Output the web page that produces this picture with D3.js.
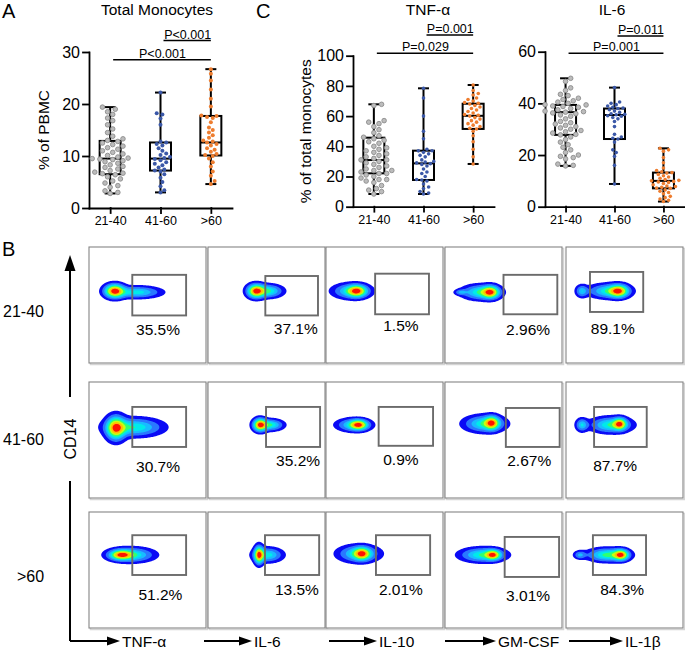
<!DOCTYPE html>
<html>
<head>
<meta charset="utf-8">
<script src="https://cdn.jsdelivr.net/npm/d3@7"></script>
<style>
  body { margin: 0; background: #fff; }
</style>
</head>
<body>
<svg id="fig" width="685" height="652"></svg>
<script>
var FONT = '"Liberation Sans", Arial, Helvetica, sans-serif';

var groups = ["21-40", "41-60", ">60"];

// panel A: total monocytes, % of PBMC
var mono2140 = [2.8, 3.0, 3.3, 4.0, 4.3, 4.8, 5.2, 5.6, 6.0, 6.4, 6.6, 6.7, 6.9, 7.2, 7.5, 7.8, 8.0, 8.3, 8.6, 8.9,
  9.1, 9.3, 9.4, 9.5, 9.6, 9.8, 10.1, 10.4, 10.7, 11.0, 11.3, 11.6, 11.9, 12.2, 12.5, 12.8, 13.0, 13.3, 13.8, 14.5,
  15.2, 16.0, 16.8, 17.3, 18.0, 18.5, 19.0, 19.4];
var mono4160 = [22.2, 18.2, 18.0, 17.2, 16.0, 12.8, 12.6, 12.3, 12.0, 11.5, 11.0, 10.5, 10.2, 9.8, 9.6, 9.4, 9.2, 8.8,
  8.5, 8.2, 7.8, 7.4, 7.2, 7.0, 6.5, 5.8, 5.0, 4.2, 3.4, 3.0];
var mono60 = [26.7, 25.8, 24.5, 22.8, 21.0, 19.5, 17.8, 17.7, 17.5, 17.3, 16.5, 15.5, 15.0, 14.5, 14.0, 13.5, 13.0,
  12.8, 12.6, 12.3, 12.0, 11.5, 11.2, 10.8, 10.4, 10.2, 10.0, 9.5, 8.8, 8.0, 7.0, 6.2, 5.2, 4.6];
var monoBox = [[2.8, 6.5, 9.5, 12.9, 19.4], [3.0, 7.2, 9.5, 12.6, 22.2], [4.6, 10.1, 12.6, 17.7, 26.7]];
var monoSig = [[0, 2, "P<0.001"], [1, 2, "P<0.001"]];

// panel C: TNF-alpha, % of total monocytes
var tnf2140 = [67.8, 67, 57, 56, 55, 53, 51, 49, 47, 46, 45, 44, 43, 42, 40, 39, 38, 37, 36, 35, 34, 33, 32, 31, 31,
  30, 29, 28, 27, 26, 25, 24, 24, 23, 22, 22, 21, 20, 19, 18, 18, 17, 16, 14, 12, 11, 10, 8.4];
var tnf4160 = [78.4, 72, 60, 50, 45, 38, 37.1, 37, 36, 35, 34, 33, 31, 30, 29.5, 29, 28.5, 28, 27, 25, 23, 22, 20,
  18, 17.7, 17, 15, 13, 12, 10, 9, 8.4];
var tnf60 = [80.6, 77, 75, 74, 72, 71, 70, 69, 68.5, 68, 67, 66, 65, 64, 63, 62, 61, 60.5, 60, 59, 58, 57, 56, 55, 54,
  53, 52, 51.5, 50, 47, 43, 38, 33, 28.3];
var tnfBox = [[8.4, 22.1, 30.9, 45.7, 67.8], [8.4, 17.7, 28.7, 37.1, 78.4], [28.3, 51.5, 60.2, 68.2, 80.6]];
var tnfSig = [[0, 2, "P=0.029"], [1, 2, "P=0.001"]];

// panel C: IL-6
var il62140 = [49.7, 48.5, 46, 45, 43.5, 43, 42, 41.5, 41, 40.5, 40, 39.5, 39.4, 39, 38.8, 38.5, 38, 37.5, 37, 36.8,
  36.6, 36.3, 36, 35.5, 35, 34, 33, 32.5, 32, 31.5, 31, 30.5, 30, 29.5, 29, 28.5, 28, 27.8, 27, 26, 25, 24, 23, 22,
  21, 20, 19.5, 19, 18.5, 16.5, 16, 15.8];
var il64160 = [46.1, 40.5, 40, 39.5, 39, 38.5, 38.2, 38, 37.5, 37, 36.5, 36, 35.8, 35.6, 35.2, 35, 34.5, 34, 33, 31,
  28, 27, 26.5, 26.2, 25, 22, 21, 19.5, 16, 8.8];
var il660 = [22.6, 22, 21.5, 19, 17, 15, 14, 13.5, 13.2, 13, 12.5, 12, 11.5, 11, 10.5, 10.2, 10, 9.8, 9.6, 9.4, 9,
  8.5, 8, 7.8, 7.5, 7.2, 7.1, 6.5, 6, 5.5, 5, 4, 3.5, 3, 2.5, 2.0];
var il6Box = [[15.8, 27.8, 36.6, 39.4, 49.7], [8.8, 26.2, 35.5, 38.0, 46.1], [2.0, 7.1, 10.0, 13.2, 22.6]];
var il6Sig = [[0, 2, "P=0.001"], [1, 2, "P=0.011"]];

// panel B: flow plots
var ageRows = ["21-40", "41-60", ">60"];
var cytokines = ["TNF-α", "IL-6", "IL-10", "GM-CSF", "IL-1β"];
var gatePct = [
  ["35.5%", "37.1%", "1.5%", "2.96%", "89.1%"],
  ["30.7%", "35.2%", "0.9%", "2.67%", "87.7%"],
  ["51.2%", "13.5%", "2.01%", "3.01%", "84.3%"]
];
// gate [x0, x1, y0, y1] on a 0-100 scale
var gates = [
  [[37, 83, 41, 76], [49, 94, 41, 75], [42, 88, 42, 77], [50, 96, 42, 76], [20.5, 66, 44, 78.5]],
  [[37, 83, 44, 78.5], [49.6, 95.8, 44, 78.5], [45, 91.5, 45, 78.5], [52, 98, 44, 77.6], [24, 69, 44, 78.5]],
  [[37, 83, 45.7, 80], [48.7, 95, 45.7, 80], [42.7, 89, 45.7, 80], [51, 97.5, 44, 78.5], [23, 68.4, 45.7, 80]]
];
var pctAt = [
  [[59, 29], [75, 30], [64, 32], [71, 29], [40, 30]],
  [[59, 27], [77, 32], [64, 33.6], [72, 32], [42, 28.5]],
  [[61, 29], [76, 33.6], [64, 33.6], [71, 28.5], [48, 33.6]]
];
// populations: [meanX, meanY, sdX, sdY, weight]
var pops = [
  [
    [[22, 62, 5.0, 3.4, 1], [41, 61, 11, 2.8, 0.38]],
    [[41, 62, 4.3, 3.4, 1], [51, 62, 7.0, 3.1, 0.5]],
    [[26.5, 62, 4.8, 3.0, 1], [22, 62, 8.8, 3.6, 0.55]],
    [[39, 61, 4.3, 3.2, 1], [31, 61, 8.8, 3.5, 0.6], [13.7, 61, 3.0, 1.4, 0.3]],
    [[45, 62, 4.8, 3.2, 1], [37, 62, 9.6, 3.4, 0.55], [13.7, 62, 3.0, 2.9, 0.4]]
  ],
  [
    [[23, 60.3, 4.8, 5.8, 1], [38.5, 61, 13, 4.3, 0.5]],
    [[44.5, 63, 3.4, 3.2, 1], [53, 63, 6.2, 2.7, 0.5]],
    [[28, 63, 4.3, 2.5, 1], [24, 63, 8.0, 3.1, 0.55]],
    [[40, 64.7, 3.8, 3.4, 1], [34, 64, 9.6, 4.0, 0.6]],
    [[46, 63.8, 3.4, 3.0, 1], [38.5, 63, 9.6, 3.7, 0.6], [13.7, 63, 3.0, 3.1, 0.45]]
  ],
  [
    [[27.4, 63, 5.7, 2.5, 1], [36, 63, 10.5, 3.4, 0.6]],
    [[43.6, 63, 2.4, 4.4, 1], [51, 63, 7.0, 3.4, 0.45]],
    [[30.8, 64, 4.3, 3.2, 1], [28, 64, 9.6, 4.0, 0.6]],
    [[41, 63, 3.8, 2.5, 1], [32.5, 63, 10.5, 3.4, 0.6]],
    [[47, 63, 3.8, 2.7, 1], [36, 63, 9.6, 3.2, 0.6], [12, 63, 3.0, 2.0, 0.3]]
  ]
];

var svg = d3.select("#fig");
var groupFill = ["#bcbcbc", "#3b58a8", "#ee7d2f"];
var groupStroke = ["#8c8c8c", "#3b58a8", "#ee7d2f"];

function swarm(vals, y, cx, r) {
  var placed = [];
  var sorted = vals.slice().sort(d3.ascending);
  var step = r * 0.95;
  return sorted.map(function(v) {
    var py = y(v);
    for (var k = 0; k < 60; k++) {
      var off = k === 0 ? 0 : (k % 2 ? 1 : -1) * Math.ceil(k / 2) * step;
      var ok = placed.every(function(p) {
        var dx = p.x - (cx + off), dy = p.y - py;
        return dx * dx + dy * dy >= (2 * r + 0.3) * (2 * r + 0.3);
      });
      if (ok) { var pt = {x: cx + off, y: py}; placed.push(pt); return pt; }
    }
    return {x: cx, y: py};
  });
}

function stripChart(c) {
  var g = svg.append("g");
  var y = d3.scaleLinear().domain([0, c.max]).range([c.yBot, c.yTop]);
  var x = d3.scalePoint().domain(groups).range([c.x0, c.x1]).padding(0.42);

  var ya = g.append("g").attr("transform", "translate(" + c.x0 + ",0)")
    .call(d3.axisLeft(y).tickValues(c.ticks).tickSize(6).tickSizeOuter(0));
  var xa = g.append("g").attr("transform", "translate(0," + c.yBot + ")")
    .call(d3.axisBottom(x).tickSize(5).tickSizeOuter(0));
  [ya, xa].forEach(function(a) {
    a.attr("font-family", FONT);
    a.selectAll("path, line").attr("stroke", "#000").attr("stroke-width", 1.8).attr("stroke-linecap", "square");
    a.selectAll("text").attr("fill", "#000");
  });
  ya.attr("font-size", 16);
  xa.attr("font-size", 12.5);

  c.box.forEach(function(s, i) {
    var cx = x(groups[i]), bw = 21, cap = 11;
    var b = g.append("g").attr("stroke", "#000").attr("stroke-width", 2).attr("fill", "none");
    b.append("line").attr("x1", cx).attr("x2", cx).attr("y1", y(s[0])).attr("y2", y(s[1]));
    b.append("line").attr("x1", cx).attr("x2", cx).attr("y1", y(s[3])).attr("y2", y(s[4]));
    b.append("line").attr("x1", cx - cap / 2).attr("x2", cx + cap / 2).attr("y1", y(s[0])).attr("y2", y(s[0]));
    b.append("line").attr("x1", cx - cap / 2).attr("x2", cx + cap / 2).attr("y1", y(s[4])).attr("y2", y(s[4]));
    b.append("rect").attr("x", cx - bw / 2).attr("width", bw)
      .attr("y", y(s[3])).attr("height", y(s[1]) - y(s[3]));
    b.append("line").attr("x1", cx - bw / 2).attr("x2", cx + bw / 2).attr("y1", y(s[2])).attr("y2", y(s[2]));
  });

  c.series.forEach(function(vals, i) {
    var r = c.radii[i];
    g.append("g").selectAll("circle")
      .data(swarm(vals, y, x(groups[i]), r))
      .enter().append("circle")
      .attr("cx", function(d) { return d.x; })
      .attr("cy", function(d) { return d.y; })
      .attr("r", i === 0 ? r - 0.4 : r)
      .attr("fill", groupFill[i])
      .attr("stroke", groupStroke[i])
      .attr("stroke-width", i === 0 ? 0.9 : 0);
  });

  c.sig.forEach(function(s, k) {
    var ly = y(c.sigAt[k]);
    g.append("line").attr("x1", x(groups[s[0]]) + 3).attr("x2", x(groups[s[1]]))
      .attr("y1", ly).attr("y2", ly).attr("stroke", "#000").attr("stroke-width", 1.5);
    g.append("text").attr("x", (x(groups[s[0]]) + x(groups[s[1]])) / 2 + 2).attr("y", ly - 2)
      .attr("text-anchor", "middle").attr("font-family", FONT).attr("font-size", 12.5).text(s[2]);
  });

  g.append("text").attr("x", c.titleX).attr("y", 15).attr("text-anchor", "middle")
    .attr("font-family", FONT).attr("font-size", 15.5).text(c.title);
  g.append("text").attr("transform", "translate(" + c.ylabX + "," + (c.yTop + c.yBot) / 2 + ") rotate(-90)")
    .attr("text-anchor", "middle").attr("font-family", FONT).attr("font-size", 15.5).text(c.ylab);
}

stripChart({series: [mono2140, mono4160, mono60], box: monoBox, max: 30, ticks: [0, 10, 20, 30],
  x0: 89, x1: 232, yTop: 52, yBot: 208, title: "Total Monocytes", titleX: 157,
  ylab: "% of PBMC", ylabX: 48.5, radii: [2.7, 2.0, 2.0], sig: monoSig, sigAt: [28.5, 32.2]});
stripChart({series: [tnf2140, tnf4160, tnf60], box: tnfBox, max: 100, ticks: [0, 20, 40, 60, 80, 100],
  x0: 353, x1: 494, yTop: 55.7, yBot: 206.7, title: "TNF-α", titleX: 428,
  ylab: "% of total monocytes", ylabX: 310.5, radii: [2.7, 1.8, 1.8], sig: tnfSig, sigAt: [101.6, 113.7]});
stripChart({series: [il62140, il64160, il660], box: il6Box, max: 60, ticks: [0, 20, 40, 60],
  x0: 545, x1: 684, yTop: 51.7, yBot: 206.7, title: "IL-6", titleX: 612,
  ylab: "", ylabX: 0, radii: [2.7, 1.8, 1.8], sig: il6Sig, sigAt: [59.4, 66.1]});

function letter(t, x, y) {
  svg.append("text").attr("x", x).attr("y", y).attr("font-family", FONT).attr("font-size", 20).text(t);
}
letter("A", 2, 18);
letter("C", 256, 18);
letter("B", 2, 256);

// ---- panel B ----
var cellLeft = [89, 208, 326, 445, 566], cellTop = [247, 382, 512], cellW = 117, cellH = 116;
var levels = [0.03, 0.1, 0.2, 0.3, 0.4, 0.52, 0.66, 0.82];
var levelColor = ["#0a0af5", "#2a78ff", "#18bcff", "#00eaea", "#30ff70", "#c8ff10", "#ffc000", "#ff1400"];
var fx = d3.scaleLinear().domain([0, 100]).range([0, cellW]);
var fy = d3.scaleLinear().domain([0, 100]).range([cellH, 0]);

ageRows.forEach(function(row, r) {
  cytokines.forEach(function(cyt, c) {
    var g = svg.append("g").attr("transform", "translate(" + cellLeft[c] + "," + cellTop[r] + ")");
    g.append("rect").attr("x", 1.5).attr("y", 1.5).attr("width", cellW).attr("height", cellH)
      .attr("fill", "none").attr("stroke", "#d4d4d4").attr("stroke-width", 1.5);
    g.append("rect").attr("width", cellW).attr("height", cellH)
      .attr("fill", "#fff").attr("stroke", "#858585").attr("stroke-width", 1.1);

    var comps = pops[r][c];
    var vals = new Array(cellW * cellH), mx = 0;
    for (var j = 0; j < cellH; j++) {
      for (var i = 0; i < cellW; i++) {
        var ux = fx.invert(i + 0.5), uy = fy.invert(j + 0.5), v = 0;
        comps.forEach(function(p) {
          var dx = (ux - p[0]) / p[2], dy = (uy - p[1]) / p[3];
          v += p[4] * Math.exp(-0.5 * (dx * dx + dy * dy));
        });
        vals[j * cellW + i] = v;
        if (v > mx) mx = v;
      }
    }
    var cont = d3.contours().size([cellW, cellH])
      .thresholds(levels.map(function(l) { return l * mx; }))(vals);
    g.append("g").selectAll("path").data(cont).enter().append("path")
      .attr("d", d3.geoPath())
      .attr("fill", function(d, k) { return levelColor[k]; });

    var gt = gates[r][c];
    g.append("rect").attr("x", fx(gt[0])).attr("width", fx(gt[1]) - fx(gt[0]))
      .attr("y", fy(gt[3])).attr("height", fy(gt[2]) - fy(gt[3]))
      .attr("fill", "none").attr("stroke", "#6b6b6b").attr("stroke-width", 1.9);
    g.append("text").attr("x", fx(pctAt[r][c][0])).attr("y", fy(pctAt[r][c][1])).attr("dy", "0.36em")
      .attr("text-anchor", "middle").attr("font-family", FONT).attr("font-size", 15.5).text(gatePct[r][c]);
  });
});

// row labels
var rowLabelY = [311, 439, 576];
ageRows.forEach(function(row, r) {
  svg.append("text").attr("x", r === 2 ? 17 : 3).attr("y", rowLabelY[r]).attr("dy", "0.36em")
    .attr("font-family", FONT).attr("font-size", 16).text(row);
});

// CD14 axis arrow
var ax = 70, axBot = 641;
var arrows = svg.append("g").attr("stroke", "#000").attr("stroke-width", 2).attr("fill", "none");
arrows.append("line").attr("x1", ax).attr("x2", ax).attr("y1", 268).attr("y2", 397);
arrows.append("line").attr("x1", ax).attr("x2", ax).attr("y1", 481).attr("y2", axBot);
svg.append("path").attr("d", "M" + ax + ",255 L" + (ax - 5.5) + ",271 L" + (ax + 5.5) + ",271 Z").attr("fill", "#000");
svg.append("text").attr("transform", "translate(" + (ax + 5.5) + ",439) rotate(-90)")
  .attr("text-anchor", "middle").attr("font-family", FONT).attr("font-size", 16).text("CD14");

// cytokine arrows
var arrowFrom = [ax, 204, 329, 445, 569], arrowTo = [120, 252, 377, 496, 623];
cytokines.forEach(function(cyt, c) {
  arrows.append("line").attr("x1", arrowFrom[c]).attr("x2", arrowTo[c] - 8).attr("y1", axBot).attr("y2", axBot);
  svg.append("path").attr("d", "M" + arrowTo[c] + "," + axBot + " L" + (arrowTo[c] - 13) + "," + (axBot - 4.5) +
    " L" + (arrowTo[c] - 13) + "," + (axBot + 4.5) + " Z").attr("fill", "#000");
  svg.append("text").attr("x", arrowTo[c] + 2).attr("y", axBot).attr("dy", "0.36em")
    .attr("font-family", FONT).attr("font-size", 15.5).text(cyt);
});
</script>
</body>
</html>
